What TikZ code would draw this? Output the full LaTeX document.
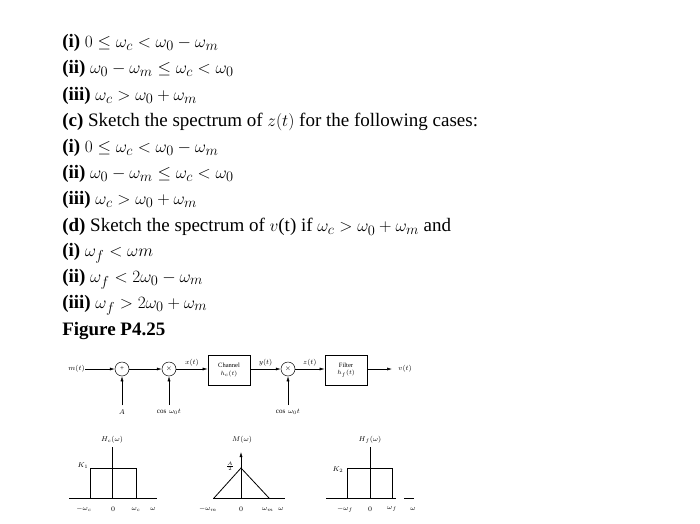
\documentclass[tikz,border=0pt]{standalone}
\usepackage{fontspec}
\setmainfont{Liberation Serif}
\usetikzlibrary{arrows.meta}
\begin{document}
\begin{tikzpicture}[x=1pt,y=-1pt,
  txt/.style={anchor=west,inner sep=0,font=\fontsize{19}{21}\selectfont},
  sm/.style={inner sep=0,font=\fontsize{7}{8}\selectfont},
  blk/.style={draw,thick,minimum width=42pt,minimum height=30pt,inner sep=0,align=center,font=\fontsize{6.5}{7.5}\selectfont},
  op/.style={draw,circle,minimum size=14pt,inner sep=0,font=\fontsize{7}{8}\selectfont},
  ar/.style={-{Latex[length=5pt,width=3pt]}},
  every path/.style={line width=0.5pt}]
\useasboundingbox (0,0) rectangle (700,523);
\node[txt] (t1) at (62,43) {\textbf{(i)} $0\leq\omega_c<\omega_0-\omega_m$};
\node[txt] (t2) at (62,69) {\textbf{(ii)} $\omega_0-\omega_m\leq\omega_c<\omega_0$};
\node[txt] (t3) at (62,96) {\textbf{(iii)} $\omega_c>\omega_0+\omega_m$};
\node[txt] (t4) at (62,122) {\textbf{(c)} Sketch the spectrum of $z(t)$ for the following cases:};
\node[txt] (t5) at (62,148) {\textbf{(i)} $0\leq\omega_c<\omega_0-\omega_m$};
\node[txt] (t6) at (62,174) {\textbf{(ii)} $\omega_0-\omega_m\leq\omega_c<\omega_0$};
\node[txt] (t7) at (62,200) {\textbf{(iii)} $\omega_c>\omega_0+\omega_m$};
\node[txt] (t8) at (62,227) {\textbf{(d)} Sketch the spectrum of $v$(t) if $\omega_c>\omega_0+\omega_m$ and};
\node[txt] (t9) at (62,253) {\textbf{(i)} $\omega_f<\omega m$};
\node[txt] (t10) at (62,279) {\textbf{(ii)} $\omega_f<2\omega_0-\omega_m$};
\node[txt] (t11) at (62,305) {\textbf{(iii)} $\omega_f>2\omega_0+\omega_m$};
\node[txt,font=\fontsize{19}{21}\selectfont\bfseries] (t12) at (62,331) {Figure P4.25};
% block diagram
\node[sm,anchor=east] (m) at (85,369) {$m(t)$};
\node[op] (add) at (122,369) {+};
\node[op] (mul1) at (169,369) {$\times$};
\node[blk] (ch) at (229,370) {Channel\\$h_c(t)$};
\node[op] (mul2) at (288,369) {$\times$};
\node[blk] (fi) at (346,370) {Filter\\$h_f(t)$};
\coordinate (vend) at (392,369);
\node[sm,anchor=west] (v) at (398,369) {$v(t)$};
\draw[ar] (m) -- (add);
\draw[ar] (add) -- (mul1);
\draw[ar] (mul1) -- (ch.west|-mul1) node[sm,midway,above=3pt] {$x(t)$};
\draw[ar] (ch.east|-mul2) -- (mul2) node[sm,midway,above=3pt] {$y(t)$};
\draw[ar] (mul2) -- (fi.west|-mul2) node[sm,midway,above=3pt] {$z(t)$};
\draw[ar] (fi.east|-mul2) -- (vend);
\node[sm] (A) at (122,412) {$A$};
\node[sm] (c1) at (169,412) {$\cos\,\omega_0 t$};
\node[sm] (c2) at (288,412) {$\cos\,\omega_0 t$};
\draw[ar] (A.north) ++(0,-4) coordinate (a0) (a0) -- (add);
\draw[ar] (c1.north) ++(0,-4) coordinate (a1) (a1) -- (mul1);
\draw[ar] (c2.north) ++(0,-4) coordinate (a2) (a2) -- (mul2);
% Hc plot
\draw (69,498) -- (157,498);
\draw (112,498) -- (112,447);
\draw[thick] (90,498) -- (90,468) -- (136,468) -- (136,498);
\node[sm] (hc) at (112,440) {$H_c(\omega)$};
\node[sm] (k1) at (83,466) {$K_1$};
\node[sm] at (84,509) {$-\omega_c$};
\node[sm] at (113,509) {$0$};
\node[sm] at (136,509) {$\omega_c$};
\node[sm] at (153,509) {$\omega$};
% M plot
\draw (213,498) -- (285,498);
\draw[ar] (241,498) -- (241,452);
\draw[thick] (214,498) -- (241,468) -- (269,498);
\node[sm] (mw) at (242,440) {$M(\omega)$};
\node[sm] at (230,466) {$\frac{A}{2}$};
\node[sm] at (208,509) {$-\omega_m$};
\node[sm] at (241,509) {$0$};
\node[sm] at (268,509) {$\omega_m$};
\node[sm] at (281,509) {$\omega$};
% Hf plot
\draw (326,498) -- (396,498);
\draw (404,498) -- (414,498);
\draw (370,498) -- (370,447);
\draw[thick] (347,498) -- (347,468) -- (392,468) -- (392,498);
\node[sm] (hf) at (370,440) {$H_f(\omega)$};
\node[sm] (k2) at (338,470) {$K_2$};
\node[sm] at (345,509) {$-\omega_f$};
\node[sm] at (370,509) {$0$};
\node[sm] at (392,509) {$\omega_f$};
\node[sm] at (413,509) {$\omega$};
\end{tikzpicture}
\end{document}
